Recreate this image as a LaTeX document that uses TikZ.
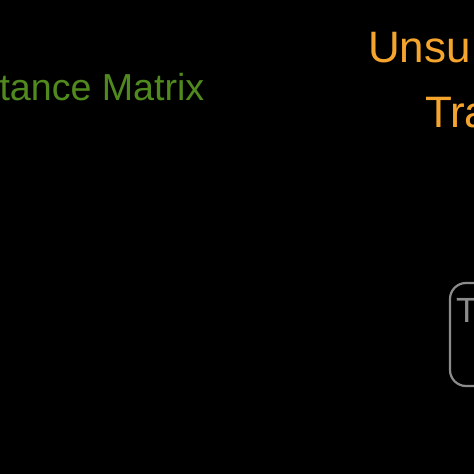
\documentclass[tikz,border=0pt]{standalone}
\usepackage{fontspec}
\setmainfont{Liberation Sans}
\definecolor{mgreen}{RGB}{80,138,30}
\definecolor{morange}{RGB}{245,165,45}
\definecolor{mgray}{RGB}{140,140,140}
\tikzset{
  lbl/.style={anchor=base west, inner sep=0pt, outer sep=0pt},
}
\begin{document}
\begin{tikzpicture}[x=1pt,y=1pt]
\fill[black] (0,0) rectangle (474,474);
\useasboundingbox (0,0) rectangle (474,474);
\clip (0,0) rectangle (474,474);
\node[lbl, text=mgreen, font=\fontsize{37.6}{40}\selectfont] (dm) at (-0.5,373.5) {tance Matrix};
\node[lbl, text=morange, font=\fontsize{44}{48}\selectfont] (un) at (368,411) {Unsu};
\node[lbl, text=morange, font=\fontsize{44}{48}\selectfont] (tr) at (425,346) {Tra};
\draw[mgray, line width=2.2pt, rounded corners=16pt] (490,191) -- (450,191) -- (450,88) -- (490,88);
\node[lbl, text=mgray, font=\fontsize{35}{38}\selectfont] (tb) at (456,151) {T};
\end{tikzpicture}
\end{document}
